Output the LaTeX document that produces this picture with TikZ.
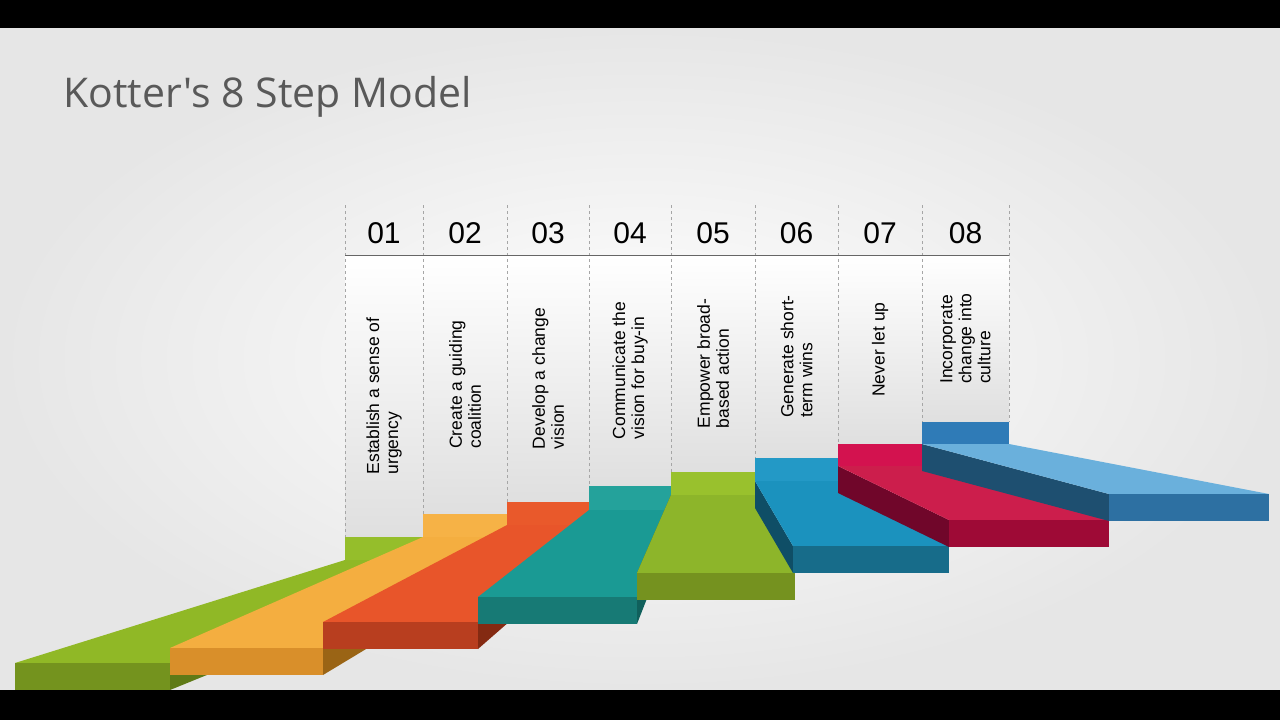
\documentclass[tikz,border=0pt]{standalone}
\usepackage{fontspec}
\setmainfont{Liberation Sans}
\newfontfamily\titlefont{Open Sans}
\definecolor{bggray}{HTML}{E6E6E6}
\definecolor{titlegray}{HTML}{595959}
% face / top / front / side colours per step
\definecolor{s1face}{HTML}{95BE2B}\definecolor{s1top}{HTML}{90B826}\definecolor{s1front}{HTML}{74931E}\definecolor{s1side}{HTML}{5F7A17}
\definecolor{s2face}{HTML}{F6B246}\definecolor{s2top}{HTML}{F4AE40}\definecolor{s2front}{HTML}{D98F2A}\definecolor{s2side}{HTML}{9A6415}
\definecolor{s3face}{HTML}{E9592B}\definecolor{s3top}{HTML}{E8552A}\definecolor{s3front}{HTML}{B83E1F}\definecolor{s3side}{HTML}{842A12}
\definecolor{s4face}{HTML}{24A29B}\definecolor{s4top}{HTML}{1A9A94}\definecolor{s4front}{HTML}{177A75}\definecolor{s4side}{HTML}{10605C}
\definecolor{s5face}{HTML}{99C12D}\definecolor{s5top}{HTML}{8DB52A}\definecolor{s5front}{HTML}{75921F}\definecolor{s5side}{HTML}{5F7A17}
\definecolor{s6face}{HTML}{2399C6}\definecolor{s6top}{HTML}{1B92BE}\definecolor{s6front}{HTML}{176C8A}\definecolor{s6side}{HTML}{0F4E66}
\definecolor{s7face}{HTML}{D3124F}\definecolor{s7top}{HTML}{CC1E4C}\definecolor{s7front}{HTML}{9E0A36}\definecolor{s7side}{HTML}{70062A}
\definecolor{s8face}{HTML}{2F7BB7}\definecolor{s8top}{HTML}{6AB0DC}\definecolor{s8front}{HTML}{2D70A2}\definecolor{s8side}{HTML}{1E4F70}
\tikzset{
  numtext/.style={font=\fontsize{30}{32}\selectfont, text=black},
  steptext/.style={font=\fontsize{17.5}{19}\selectfont, rotate=90, align=left, text=black},
  colline/.style={dashed, gray!70, line width=0.5pt}
}
\begin{document}
\begin{tikzpicture}[x=1pt, y=-1pt]
  \fill[black] (0,0) rectangle (1280,720);
  \shade[inner color=white, outer color=bggray] (0,28) rectangle (1280,690);
  \node (title) [anchor=west, text=titlegray, font=\titlefont\fontsize{41}{44}\selectfont] at (60,97) {Kotter's 8 Step Model};

  \def\thick{27}
  \foreach \i/\xl/\xr/\yt/\yb/\Xl/\Xr/\Y/\txt in {
      1/345/423/537/560/15/170/663/{Establish a sense of\\urgency},
      2/423/507/514/537/170/323/648/{Create a guiding\\coalition},
      3/507/589/502/525/323/478/622/{Develop a change\\vision},
      4/589/671/486/510/478/637/597/{Communicate the\\vision for buy-in},
      5/671/755/472/495/637/795/573/{Empower broad-\\based action},
      6/755/838/458/481/793/949/546/{Generate short-\\term wins},
      7/838/922/444/466/949/1109/520/{Never let up},
      8/922/1009/422/444/1109/1269/494/{Incorporate\\change into\\culture}} {
    % text panel
    \shade[top color=white, bottom color=gray!25] (\xl,255) rectangle (\xr,\yt);
    \draw[colline] (\xl,205) -- (\xl,\yt);
    \draw[colline] (\xr,205) -- (\xr,\yt);
    \pgfmathsetmacro\xm{(\xl+\xr)/2}
    \pgfmathsetmacro\ym{(255+\yt)/2}
    \node (n\i) [numtext] at (\xm,233) {0\i};
    \node (t\i) [steptext] at (\xm,\ym) {\txt};
    % step face and band
    \fill[s\i face] (\xl,\yt) rectangle (\xr,\yb);
    \ifnum\i<5
      \fill[s\i side] (\xr,\yb) -- (\Xr,\Y) -- (\Xr,\Y+\thick) -- (\xr,\yb+\thick) -- cycle;
    \else
      \fill[s\i side] (\xl,\yb) -- (\Xl,\Y) -- (\Xl,\Y+\thick) -- (\xl,\yb+\thick) -- cycle;
    \fi
    \fill[s\i top] (\xl,\yb) -- (\xr,\yb) -- (\Xr,\Y) -- (\Xl,\Y) -- cycle;
    \fill[s\i front] (\Xl,\Y) rectangle (\Xr,\Y+\thick);
  }
  \draw[gray!80!black, line width=1pt] (345,255) -- (1009,255);
  \fill[black] (0,690) rectangle (1280,720);
\end{tikzpicture}
\end{document}
